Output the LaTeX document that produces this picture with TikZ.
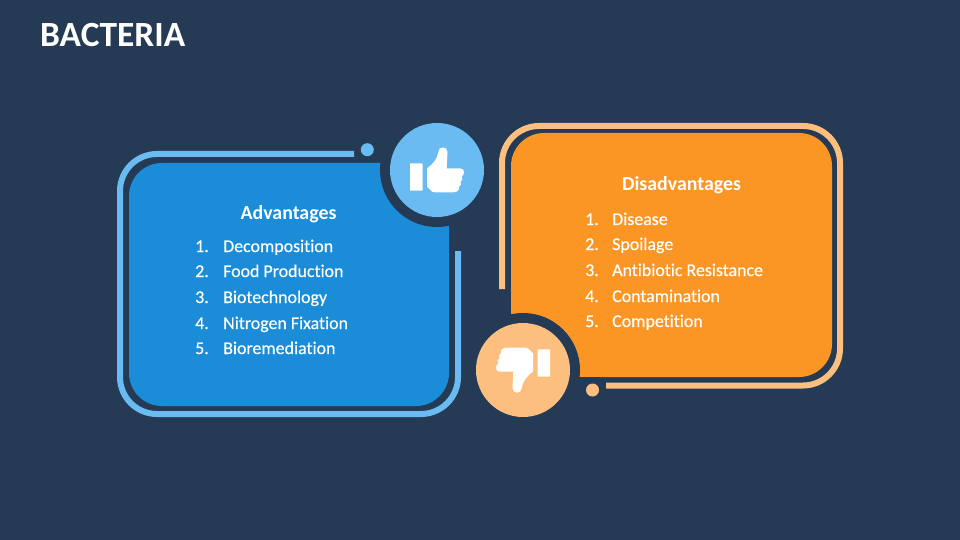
\documentclass[tikz,border=0pt]{standalone}
\usepackage{fontspec}
\setmainfont{Carlito}[Ligatures=NoCommon]
\newfontfamily\itemfont{Carlito}[Ligatures=NoCommon,RawFeature={embolden=0.35}]
\definecolor{bgc}{HTML}{253A54}
\definecolor{bluefill}{HTML}{1A8CD8}
\definecolor{bluelight}{HTML}{69BBF1}
\definecolor{orangefill}{HTML}{FB9625}
\definecolor{orangelight}{HTML}{FDBF7F}
\tikzset{
  x=1pt,y=-1pt,
  outline/.style={line width=6pt},
  ring/.style={circle,fill=bgc,minimum size=114pt,inner sep=0pt},
  badge/.style={circle,minimum size=94pt,inner sep=0pt},
  dotmark/.style={circle,minimum size=13pt,inner sep=0pt},
  itemtext/.style={text=white,font=\fontsize{17.9pt}{20pt}\itemfont,anchor=base west,inner sep=0pt},
  headtext/.style={text=white,font=\fontsize{19.9pt}{22pt}\selectfont\bfseries,anchor=base,inner sep=0pt},
}
\newcommand{\thumbicon}{%
  \fill[white,rounded corners=0.6pt] (-27,-6.7) rectangle (-14.5,20.7);
  \fill[white] (-10,-1.7) -- (-10,16.7) .. controls (-7,19) and (-6,22.3) .. (-2,22.3)
    -- (16,22.3) .. controls (20,22.3) and (22.5,20.5) .. (22,17)
    .. controls (24,16) and (24.5,13.5) .. (23.5,12)
    .. controls (25.5,11) and (26,8) .. (24.8,6.5)
    .. controls (27.5,5) and (28.5,-1.7) .. (23,-1.7)
    -- (9.7,-1.7) -- (10.5,-18) .. controls (10.5,-24.2) and (1.3,-24.2) .. (1.3,-18)
    .. controls (0.5,-11) and (-5,-5) .. (-10,-1.7) -- cycle;
}
\begin{document}
\begin{tikzpicture}
\useasboundingbox (0,0) rectangle (960,540);
\fill[bgc] (0,0) rectangle (960,540);
\node[text=white,font=\fontsize{35.4pt}{38pt}\selectfont\bfseries,anchor=base west,inner sep=0pt] (title) at (40,47) {BACTERIA};

% left card
\fill[bluefill,rounded corners=33pt] (129,163) rectangle (449,406);
\draw[bluelight,outline,rounded corners=37pt] (354,154) -- (120,154) -- (120,414) -- (458,414) -- (458,251);
\node[ring] (upring) at (437,170) {};
\fill[bgc] (449,227) rectangle (454,163);
\fill[bgc] (380,157) rectangle (454,163);
\node[badge,fill=bluelight] (upbadge) at (437,170) {};
\node[dotmark,fill=bluelight] (updot) at (367.3,149.7) {};
\begin{scope}[shift={(437,170)}]\thumbicon\end{scope}

% right card
\fill[orangefill,rounded corners=33pt] (511,133) rectangle (832,377);
\draw[orangelight,outline,rounded corners=37pt] (502,289) -- (502,126) -- (840,126) -- (840,385.5) -- (606,385.5);
\node[ring] (downring) at (523,370) {};
\fill[bgc] (506,300) rectangle (511,377);
\fill[bgc] (506,377) rectangle (600,382);
\node[badge,fill=orangelight] (downbadge) at (523,370) {};
\node[dotmark,fill=orangelight] (downdot) at (592.5,390) {};
\begin{scope}[shift={(523,370)},rotate=180]\thumbicon\end{scope}

% left text
\node[headtext] (advhead) at (288.5,219) {Advantages};
\foreach \n/\t/\y in {1/Decomposition/252,2/Food Production/277,3/Biotechnology/303,4/Nitrogen Fixation/329,5/Bioremediation/354}{
  \node[itemtext] (advnum\n) at (195,\y) {\n.};
  \node[itemtext] (advitem\n) at (223,\y) {\t};
}
% right text
\node[headtext] (dishead) at (681.5,190) {Disadvantages};
\foreach \n/\t/\y in {1/Disease/225,2/Spoilage/250,3/Antibiotic Resistance/276,4/Contamination/302,5/Competition/327}{
  \node[itemtext] (disnum\n) at (585,\y) {\n.};
  \node[itemtext] (disitem\n) at (612,\y) {\t};
}
\end{tikzpicture}
\end{document}
